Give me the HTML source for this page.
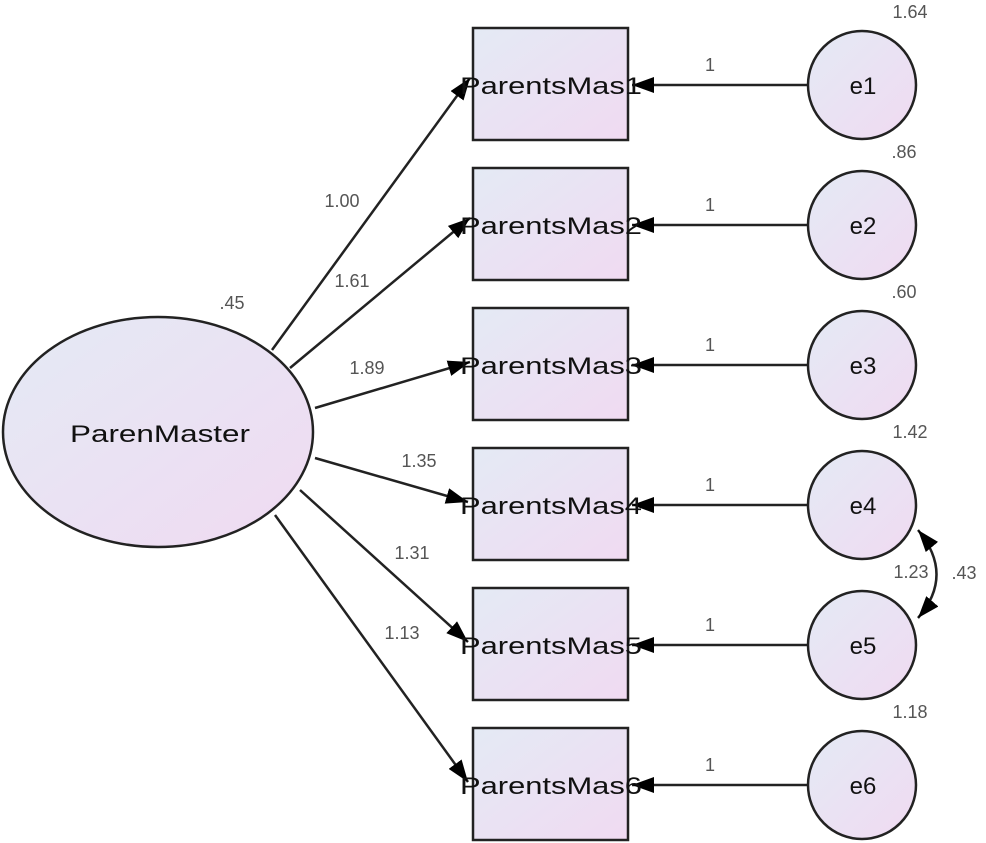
<!DOCTYPE html>
<html><head><meta charset="utf-8"><style>body{margin:0;background:#fff}svg{display:block}</style></head><body>
<svg width="986" height="843" viewBox="0 0 986 843" xmlns="http://www.w3.org/2000/svg" font-family="Liberation Sans, sans-serif">
<defs>
<linearGradient id="g" x1="0" y1="0" x2="1" y2="1"><stop offset="0" stop-color="#e4eaf4"/><stop offset="1" stop-color="#f0daf2"/></linearGradient>
<marker id="b" markerWidth="22" markerHeight="16" refX="22" refY="8" orient="auto-start-reverse" markerUnits="userSpaceOnUse"><path d="M0,0 L22,8 L0,16z" fill="#000"/></marker>
</defs>
<g stroke="#222" stroke-width="2.5" fill="none">
<line x1="272" y1="350" x2="470" y2="78" marker-end="url(#b)"/>
<line x1="290" y1="368" x2="470" y2="218" marker-end="url(#b)"/>
<line x1="315" y1="408" x2="470" y2="362" marker-end="url(#b)"/>
<line x1="315" y1="458" x2="468" y2="502" marker-end="url(#b)"/>
<line x1="300" y1="490" x2="468" y2="642" marker-end="url(#b)"/>
<line x1="275" y1="515" x2="468" y2="782" marker-end="url(#b)"/>
<line x1="808" y1="85" x2="632" y2="85" marker-end="url(#b)"/>
<line x1="808" y1="225" x2="632" y2="225" marker-end="url(#b)"/>
<line x1="808" y1="365" x2="632" y2="365" marker-end="url(#b)"/>
<line x1="808" y1="505" x2="632" y2="505" marker-end="url(#b)"/>
<line x1="808" y1="645" x2="632" y2="645" marker-end="url(#b)"/>
<line x1="808" y1="785" x2="632" y2="785" marker-end="url(#b)"/>
<path d="M918,530 Q955,575 918,618" marker-start="url(#b)" marker-end="url(#b)"/>
</g>
<g stroke="#222" stroke-width="2.5" fill="url(#g)">
<ellipse cx="158" cy="432" rx="155" ry="115"/>
<rect x="473" y="28" width="155" height="112"/>
<rect x="473" y="168" width="155" height="112"/>
<rect x="473" y="308" width="155" height="112"/>
<rect x="473" y="448" width="155" height="112"/>
<rect x="473" y="588" width="155" height="112"/>
<rect x="473" y="728" width="155" height="112"/>
<circle cx="862" cy="85" r="54"/>
<circle cx="862" cy="225" r="54"/>
<circle cx="862" cy="365" r="54"/>
<circle cx="862" cy="505" r="54"/>
<circle cx="862" cy="645" r="54"/>
<circle cx="862" cy="785" r="54"/>
</g>
<g font-size="24" fill="#111" lengthAdjust="spacingAndGlyphs">
<text x="70" y="442" textLength="180" lengthAdjust="spacingAndGlyphs">ParenMaster</text>
<text x="460" y="94" textLength="182" lengthAdjust="spacingAndGlyphs">ParentsMas1</text>
<text x="460" y="234" textLength="182" lengthAdjust="spacingAndGlyphs">ParentsMas2</text>
<text x="460" y="374" textLength="182" lengthAdjust="spacingAndGlyphs">ParentsMas3</text>
<text x="460" y="514" textLength="182" lengthAdjust="spacingAndGlyphs">ParentsMas4</text>
<text x="460" y="654" textLength="182" lengthAdjust="spacingAndGlyphs">ParentsMas5</text>
<text x="460" y="794" textLength="182" lengthAdjust="spacingAndGlyphs">ParentsMas6</text>
</g>
<g font-size="24" fill="#111" text-anchor="middle">
<text x="863" y="94">e1</text>
<text x="863" y="234">e2</text>
<text x="863" y="374">e3</text>
<text x="863" y="514">e4</text>
<text x="863" y="654">e5</text>
<text x="863" y="794">e6</text>
</g>
<g font-size="18" fill="#555" text-anchor="middle">
<text x="232" y="309">.45</text>
<text x="342" y="207">1.00</text>
<text x="352" y="287">1.61</text>
<text x="367" y="374">1.89</text>
<text x="419" y="467">1.35</text>
<text x="412" y="559">1.31</text>
<text x="402" y="639">1.13</text>
<text x="710" y="71">1</text><text x="710" y="211">1</text><text x="710" y="351">1</text>
<text x="710" y="491">1</text><text x="710" y="631">1</text><text x="710" y="771">1</text>
<text x="910" y="18">1.64</text>
<text x="904" y="158">.86</text>
<text x="904" y="298">.60</text>
<text x="910" y="438">1.42</text>
<text x="911" y="578">1.23</text>
<text x="964" y="579">.43</text>
<text x="910" y="718">1.18</text>
</g>
</svg>
</body></html>
